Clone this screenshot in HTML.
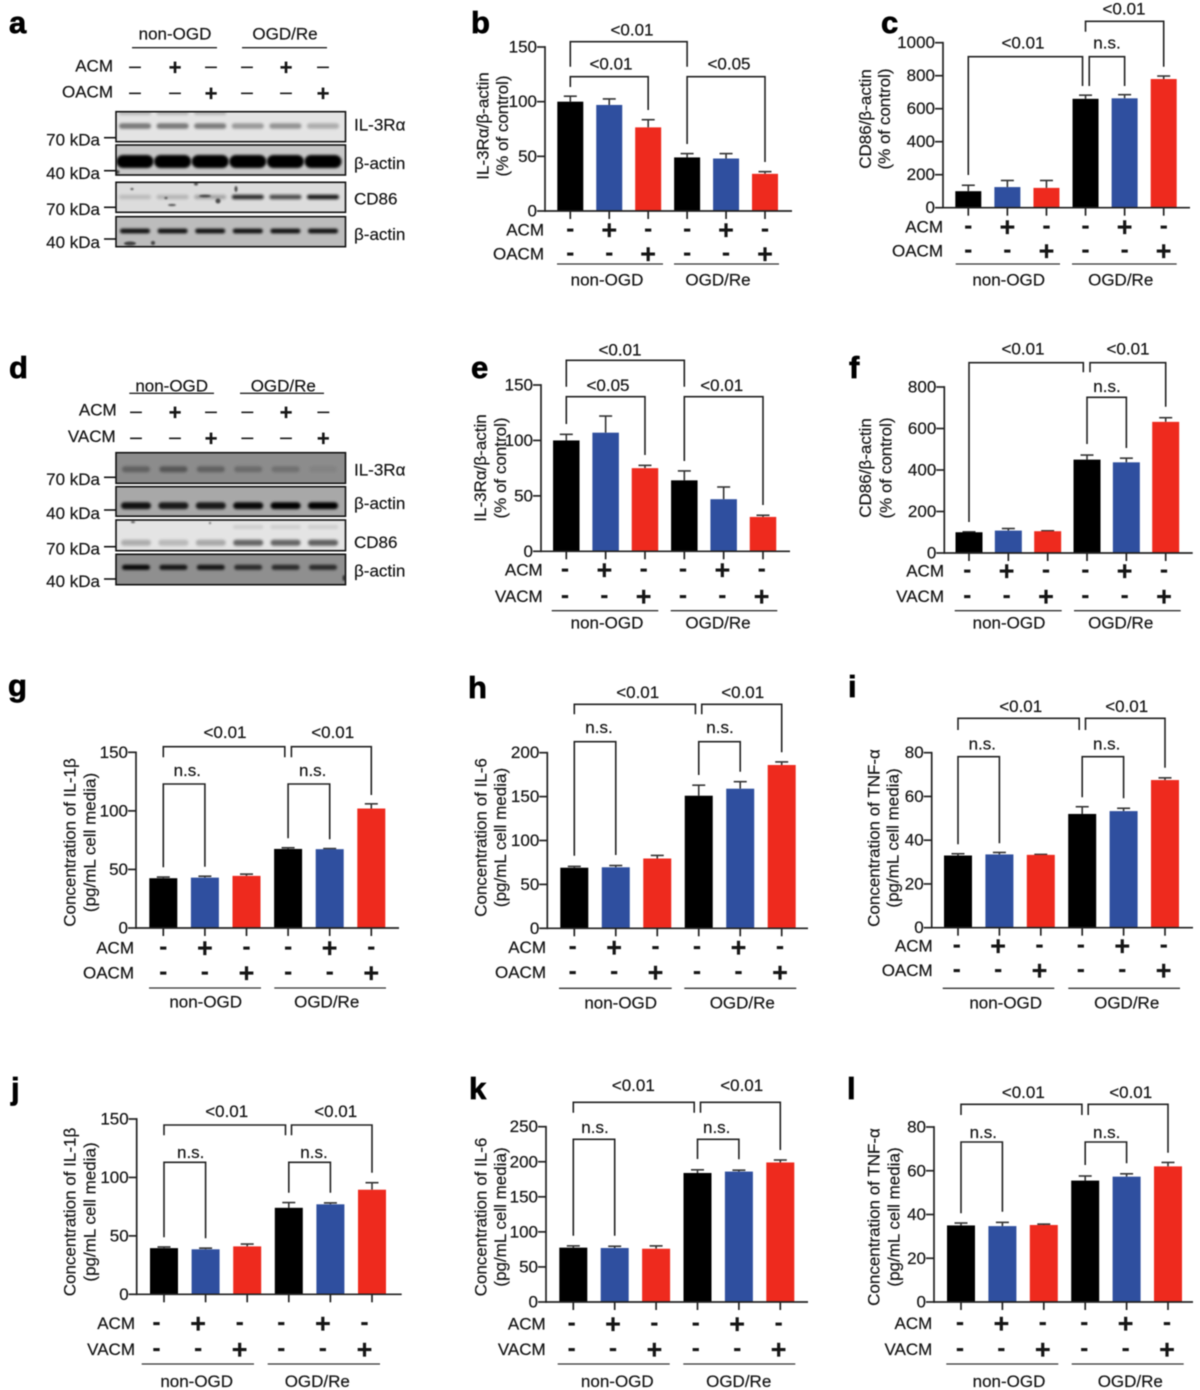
<!DOCTYPE html>
<html lang="en">
<head>
<meta charset="utf-8">
<title>Western blots and cytokine bar charts</title>
<style>
html,body{margin:0;padding:0;background:#fff}
svg{display:block;filter:blur(.45px)}
text{font-family:"Liberation Sans",Arial,sans-serif;fill:#151515;stroke:#151515;stroke-width:.2px}
</style>
</head>
<body>
<svg id="figure" xmlns="http://www.w3.org/2000/svg" width="1200" height="1390" viewBox="0 0 1200 1390">
  <defs>
    <filter id="bandBlur" x="-30%" y="-100%" width="160%" height="300%"><feGaussianBlur stdDeviation="1.2"/></filter>
    <filter id="softBlur" x="-50%" y="-100%" width="200%" height="300%"><feGaussianBlur stdDeviation="0.8"/></filter>
  </defs>
</svg>
<script>
// ---------- shared categories ----------
const acmSigns = ['-', '+', '-', '-', '+', '-'];
const secondSigns = ['-', '-', '+', '-', '-', '+'];
const groupLabels = ['non-OGD', 'OGD/Re'];
const barColors = ['#000000', '#2f4f9f', '#ee2a1e'];

// ---------- chart values ----------
const bMeans = [100, 97, 76.5, 49, 48, 34];
const bErrors = [5, 5.5, 7, 3.5, 4.5, 2];
const bTicks = [0, 50, 100, 150];

const cMeans = [100, 125, 120, 660, 663, 780];
const cErrors = [36, 40, 45, 22, 22, 18];
const cTicks = [0, 200, 400, 600, 800, 1000];

const eMeans = [100, 107, 75, 64, 47, 31];
const eErrors = [5.5, 15, 2.5, 8.5, 11, 1.5];
const eTicks = [0, 50, 100, 150];

const fMeans = [100, 108, 105, 450, 437, 632];
const fErrors = [2, 10, 2, 22, 20, 20];
const fTicks = [0, 200, 400, 600, 800];

const gMeans = [42.5, 43, 44.5, 67.5, 67.3, 102];
const gErrors = [1, 1.2, 1.5, 1, 0.5, 4];
const gTicks = [0, 50, 100, 150];

const hMeans = [69, 69.5, 79.5, 151, 159, 186];
const hErrors = [1.5, 2, 3.5, 12, 8, 3.5];
const hTicks = [0, 50, 100, 150, 200];

const iMeans = [33, 33.5, 33.3, 52, 53.3, 67.5];
const iErrors = [0.8, 0.9, 0.2, 3.3, 1.3, 1];
const iTicks = [0, 20, 40, 60, 80];

const jMeans = [39.5, 38.5, 41, 74, 77, 89.5];
const jErrors = [1, 1, 2, 4.5, 1.2, 6];
const jTicks = [0, 50, 100, 150];

const kMeans = [77.5, 77, 76, 184, 186, 199];
const kErrors = [2.5, 2.5, 4, 4.5, 2, 3.5];
const kTicks = [0, 50, 100, 150, 200, 250];

const lMeans = [35, 34.7, 35.2, 55.5, 57.3, 62];
const lErrors = [1.1, 1.7, 0.4, 2.1, 1.3, 1.8];
const lTicks = [0, 20, 40, 60, 80];

// ---------- western blot band strengths (lane 1..6) ----------
const aIl3Bands = [.6, .6, .58, .42, .45, .3];
const aActinBands = [1, 1, 1, 1, 1, 1];
const aCd86Bands = [.15, .18, .25, .85, .7, .95];
const aActin2Bands = [.9, .9, .9, .9, .9, .9];
const dIl3Bands = [.4, .5, .4, .3, .25, .08];
const dActinBands = [.9, .85, .85, .95, 1, 1];
const dCd86Bands = [.28, .22, .3, .65, .65, .68];
const dActin2Bands = [.95, .85, .85, .7, .7, .7];

// ---------- layout ----------
const TITLE_PCT = ['(% of control)'];
const CONC = '(pg/mL cell media)';
function br(a, ao, b, bo, top, lb, rb, label, lx, ly) { return {a, ao, b, bo, top, lb, rb, label, lx, ly}; }

const panels = [
 {id:'b', means:bMeans, errors:bErrors, ticks:bTicks, second:'OACM', ax:545, end:792, y0:211, yTop:47, x0:570.3, x5:765, w:26, signDx:0,
  rows:[230,254], right:544, line:264, spans:[[557,663],[674,779]], gy:280, gx:[607,718],
  title:['IL-3Rα/β-actin',TITLE_PCT[0]], tx:[483,502.7], tc:126,
  brackets:[br(0,0,3,0,41.7,66.7,66.7,'<0.01',632,30), br(0,0,2,0,76.7,87,110,'<0.01',611,64), br(3,0,5,0,76.7,144,162,'<0.05',729,64)]},
 {id:'c', means:cMeans, errors:cErrors, ticks:cTicks, second:'OACM', ax:943, end:1190, y0:207.7, yTop:42.7, x0:968.3, x5:1163.7, w:26, signDx:0,
  rows:[227,251], right:943, line:264, spans:[[955.7,1060],[1072,1176.7]], gy:280, gx:[1008.7,1120.7],
  title:['CD86/β-actin',TITLE_PCT[0]], tx:[865.7,884.3], tc:119,
  brackets:[br(0,0,3,-3,56.7,175,86,'<0.01',1023,43), br(3,3.7,4,0,56.7,86,86,'n.s.',1107,43), br(3,0,5,0,21.3,31.7,66.7,'<0.01',1124,9)]},
 {id:'e', means:eMeans, errors:eErrors, ticks:eTicks, second:'VACM', ax:541, end:790, y0:551.3, yTop:385, x0:566.3, x5:763, w:26.5, signDx:-1.3,
  rows:[570,596.7], right:542.7, line:610.7, spans:[[551.7,658.3],[670.7,777.3]], gy:623, gx:[607,718],
  title:['IL-3Rα/β-actin',TITLE_PCT[0]], tx:[480.7,500.7], tc:468,
  brackets:[br(0,0,3,0,360.3,386.7,386.7,'<0.01',620,350), br(0,0,2,0,396.7,424,455,'<0.05',608,385.7), br(3,0,5,0,396.7,461,505,'<0.01',721.7,385.7)]},
 {id:'f', means:fMeans, errors:fErrors, ticks:fTicks, second:'VACM', ax:944.3, end:1192.7, y0:553, yTop:387, x0:969, x5:1165.7, w:27, signDx:-1.7,
  rows:[571,596.7], right:944, line:610.7, spans:[[954.7,1061.7],[1074,1180.7]], gy:623, gx:[1009,1120.7],
  title:['CD86/β-actin',TITLE_PCT[0]], tx:[865.7,886], tc:468,
  brackets:[br(0,0,3,-3.7,362.7,522,372.3,'<0.01',1023,349), br(3,3,5,0,362.7,372.3,406.7,'<0.01',1128,349), br(3,0,4,0,397.3,444,448,'n.s.',1107,386.7)]},
 {id:'g', means:gMeans, errors:gErrors, ticks:gTicks, second:'OACM', ax:136, end:399, y0:928, yTop:752.3, x0:163.3, x5:371.3, w:28, signDx:0,
  rows:[948,973], right:134, line:988, spans:[[149,261],[274.3,386]], gy:1002, gx:[205.7,326.7],
  title:['Concentration of IL-1β',CONC], tx:[70,90], tc:842.5,
  brackets:[br(0,0,3,-3.3,746.7,757.3,757.3,'<0.01',225,732.7), br(3,3.3,5,0,746.7,757.3,795,'<0.01',332.7,732.7), br(0,0,1,0,784,867.3,866.7,'n.s.',187.3,770.7), br(3,0,4,0,784,838.3,839.3,'n.s.',312.7,770.7)]},
 {id:'h', means:hMeans, errors:hErrors, ticks:hTicks, second:'OACM', ax:547.3, end:808, y0:928.3, yTop:752.7, x0:574.3, x5:781.7, w:28, signDx:-1.7,
  rows:[947.7,972.3], right:546, line:988.3, spans:[[559,671.7],[684.3,796.3]], gy:1003, gx:[620.7,742.3],
  title:['Concentration of IL-6',CONC], tx:[481,500.7], tc:837.5,
  brackets:[br(0,0,3,-3.3,704.3,714.3,714.3,'<0.01',637.7,692.3), br(3,3,5,0,704.3,714.3,752.3,'<0.01',742.7,692.3), br(0,0,1,0,741.7,855.7,855,'n.s.',599,727.7), br(3,0,4,0,741.7,775,771.7,'n.s.',720,727.7)]},
 {id:'i', means:iMeans, errors:iErrors, ticks:iTicks, second:'OACM', ax:931.7, end:1193, y0:927.7, yTop:752.7, x0:958, x5:1165, w:28, signDx:-1.3,
  rows:[946,970.3], right:932.7, line:988.3, spans:[[942.7,1054.3],[1068.3,1180]], gy:1003, gx:[1005.7,1126.7],
  title:['Concentration of TNF-α',CONC], tx:[874,893], tc:838,
  brackets:[br(0,0,3,-3,718.3,730,730,'<0.01',1020.7,706.7), br(3,3.3,5,0,718.3,730,767.7,'<0.01',1126.7,706.7), br(0,0,1,0,756.7,844.3,843.3,'n.s.',982.3,744), br(3,0,4,0,756.7,797.3,798.3,'n.s.',1106.7,744)]},
 {id:'j', means:jMeans, errors:jErrors, ticks:jTicks, second:'VACM', ax:136.7, end:401.7, y0:1294.3, yTop:1119, x0:164, x5:372, w:28, signDx:-7.5,
  rows:[1323.3,1349.3], right:135, line:1364, spans:[[141.7,254],[267.7,380]], gy:1381.7, gx:[196.7,317.3],
  title:['Concentration of IL-1β',CONC], tx:[70,90], tc:1212,
  brackets:[br(0,0,3,-3.3,1125,1135.3,1135.3,'<0.01',226.7,1111.7), br(3,2.7,5,0,1125,1135.3,1172.7,'<0.01',335.7,1111.7), br(0,0,1,0,1162.3,1237.3,1238.3,'n.s.',190.7,1152.7), br(3,0,4,0,1162.3,1192.7,1192.7,'n.s.',314,1152.7)]},
 {id:'k', means:kMeans, errors:kErrors, ticks:kTicks, second:'VACM', ax:546, end:808, y0:1302, yTop:1126.7, x0:573.3, x5:780.3, w:28, signDx:-1.7,
  rows:[1324,1349.3], right:545.7, line:1364, spans:[[557.7,669.7],[683.3,795.3]], gy:1381.7, gx:[617.3,738.7],
  title:['Concentration of IL-6',CONC], tx:[481,500.7], tc:1217,
  brackets:[br(0,0,3,-3.3,1102.3,1112.7,1112.7,'<0.01',633.3,1085.7), br(3,3,5,0,1102.3,1112.7,1150,'<0.01',741.7,1085.7), br(0,0,1,0,1139.3,1235.7,1235.7,'n.s.',595,1127.7), br(3,0,4,0,1139.3,1159,1159.3,'n.s.',716.7,1127.7)]},
 {id:'l', means:lMeans, errors:lErrors, ticks:lTicks, second:'VACM', ax:934, end:1193, y0:1302, yTop:1127, x0:961, x5:1168, w:28, signDx:-1,
  rows:[1323.3,1349.3], right:932.3, line:1364, spans:[[946.3,1058.3],[1071.7,1183.7]], gy:1381.7, gx:[1009,1130.3],
  title:['Concentration of TNF-α',CONC], tx:[874,894], tc:1217,
  brackets:[br(0,0,3,-3.3,1104.3,1115,1115,'<0.01',1023.3,1092.3), br(3,3,5,0,1104.3,1115,1152.7,'<0.01',1130.7,1092.3), br(0,0,1,0,1142,1213.3,1211.7,'n.s.',983.3,1132.3), br(3,0,4,0,1142,1165,1163.3,'n.s.',1106.7,1132.3)]}
];

const panelLetters = [
 ['a',9,33],['b',471,33],['c',881,33],['d',9,378],['e',471,378],['f',849,378],
 ['g',8,696],['h',468,698],['i',848,697],['j',11,1099],['k',469,1099],['l',847,1099]
];

const NS = 'http://www.w3.org/2000/svg';
const root = document.getElementById('figure');
function mk(tag, parent, attrs) {
  const el = document.createElementNS(NS, tag);
  for (const k in attrs) el.setAttribute(k, attrs[k]);
  parent.appendChild(el);
  return el;
}
function label(parent, str, x, y, anchor, size, weight) {
  const el = mk('text', parent, {x: x, y: y, 'text-anchor': anchor, 'font-size': size, 'dominant-baseline': 'central'});
  if (weight) el.setAttribute('font-weight', weight);
  el.textContent = str;
  return el;
}
function strokeLine(parent, x1, y1, x2, y2, color, width) {
  return mk('line', parent, {x1, y1, x2, y2, stroke: color, 'stroke-width': width});
}

// ---------- panel letters ----------
panelLetters.forEach(function (p) {
  const el = mk('text', root, {x: p[1], y: p[2], 'font-size': 31, 'font-weight': 'bold'});
  el.textContent = p[0];
  el.style.fill = '#000';
  el.style.stroke = '#000';
  el.style.strokeWidth = '.7px';
  
  
});

// ---------- bar chart panels ----------
panels.forEach(function (p) {
  const g = mk('g', root, {});
  
  

  const maxTick = p.ticks[p.ticks.length - 1];
  const yScale = function (v) { return p.y0 - (v / maxTick) * (p.y0 - p.yTop); };
  const xScale = function (i) { return p.x0 + i * (p.x5 - p.x0) / 5; };

  // bars + error bars
  p.means.forEach(function (value, i) {
    const cx = xScale(i);
    const top = yScale(value);
    const whisker = yScale(value + p.errors[i]);
    const stem = strokeLine(g, cx, top, cx, whisker, '#333', 1.6);
    
    
    const cap = strokeLine(g, cx - 6.5, whisker, cx + 6.5, whisker, '#333', 1.6);
    
    
    const bar = mk('rect', g, {x: cx - p.w / 2, y: top, width: p.w, height: p.y0 - top, fill: barColors[i % 3]});
    
    
    const tick = strokeLine(g, cx, p.y0, cx, p.y0 + 8, '#222', 1.7);
    
    

    const s1 = label(g, acmSigns[i], cx + p.signDx, p.rows[0] - (acmSigns[i] === '-' ? 1 : 0), 'middle', acmSigns[i] === '+' ? 27 : 24, 'bold');
    
    
    const s2 = label(g, secondSigns[i], cx + p.signDx, p.rows[1] - (secondSigns[i] === '-' ? 1 : 0), 'middle', secondSigns[i] === '+' ? 27 : 24, 'bold');
    
    
  });

  // axes
  const yAxis = strokeLine(g, p.ax, p.yTop - .85, p.ax, p.y0 + .85, '#222', 1.7);
  
  
  const xAxis = strokeLine(g, p.ax, p.y0, p.end, p.y0, '#222', 1.7);
  
  

  p.ticks.forEach(function (t) {
    const ty = yScale(t);
    const tick = strokeLine(g, p.ax - 8, ty, p.ax, ty, '#222', 1.7);
    
    
    const lab = label(g, String(t), p.ax - 8, ty, 'end', 17);
    
    
  });

  // y title (two lines)
  p.title.forEach(function (line, i) {
    const t = label(g, line, 0, 0, 'middle', 17);
    t.setAttribute('transform', 'translate(' + p.tx[i] + ' ' + p.tc + ') rotate(-90)');
    
    
  });

  // row labels
  const acm = label(g, 'ACM', p.right, p.rows[0], 'end', 17);
  
  
  const sec = label(g, p.second, p.right, p.rows[1], 'end', 17);
  
  

  // group lines + labels
  groupLabels.forEach(function (name, i) {
    const ln = strokeLine(g, p.spans[i][0], p.line, p.spans[i][1], p.line, '#333', 1.3);
    
    
    const t = label(g, name, p.gx[i], p.gy, 'middle', 17);
    
    
  });

  // significance brackets
  p.brackets.forEach(function (b, i) {
    const xa = xScale(b.a) + b.ao;
    const xb = xScale(b.b) + b.bo;
    const path = mk('path', g, {d: 'M' + xa + ' ' + b.lb + 'V' + b.top + 'H' + xb + 'V' + b.rb, fill: 'none', stroke: '#222', 'stroke-width': 1.6});
    
    
    const t = label(g, b.label, b.lx, b.ly, 'middle', 17);
    
    
  });
});

// ---------- western blots ----------
const blots = [
 {id:'a', second:'OACM', lane0:135, lane5:323, x:116, w:229.5,
  groupY:34, groupLineY:47.7, gx:[175,285], spans:[[132,217],[242,327]],
  rowLabelRight:[113,113], rowLabelY:[66,92], signY:[67.7,93.3], signX:[135,175,211,247,286,323],
  strips:[
   {name:'IL-3Rα', y:111.7, h:30, bg:'#e4e4e4', bands:aIl3Bands, by:126, bw:16, bh:2.8, tint:'#333', ghostY:113, ghost:.25, kda:'70 kDa', ky:140, ty:137.7, ly:125, specks:[]},
   {name:'β-actin', y:145, h:30, bg:'#c8c8c8', bands:aActinBands, by:161.5, bw:18.5, bh:6.5, tint:'#000', kda:'40 kDa', ky:173.3, ty:170.7, ly:163.3, specks:[[117,172,2.5,2]]},
   {name:'CD86', y:182.3, h:30, bg:'#dcdcdc', bands:aCd86Bands, by:197, bw:16, bh:2.2, tint:'#111', kda:'70 kDa', ky:209.3, ty:207.3, ly:199, specks:[[196,184,2,1.5],[218,201,2.5,2.5],[236,189,1.5,3],[132,189,1.5,1],[166,198,1.5,1],[172,205,4,1],[205,196,6,1.2]]},
   {name:'β-actin', y:216.7, h:30, bg:'#bcbcbc', bands:aActin2Bands, by:231, bw:15, bh:2.4, tint:'#000', kda:'40 kDa', ky:242.7, ty:239, ly:234.3, specks:[[130,243.5,6,2],[153,243,2,2]]}
  ]},
 {id:'d', second:'VACM', lane0:136, lane5:323, x:116, w:229.5,
  groupY:386, groupLineY:393.3, gx:[171.7,283.3], spans:[[129.3,214],[240,324]],
  rowLabelRight:[116.7,115.7], rowLabelY:[410,436.7], signY:[412.7,438.3], signX:[136,175,211,247.3,286,323.3],
  strips:[
   {name:'IL-3Rα', y:452.7, h:30.6, bg:'#8c8c8c', bands:dIl3Bands, by:469.3, bw:14, bh:3, tint:'#222', kda:'70 kDa', ky:479.3, ty:477.3, ly:470, specks:[]},
   {name:'β-actin', y:486.7, h:29.5, bg:'#a8a8a8', bands:dActinBands, by:505.7, bw:15, bh:3.4, tint:'#000', kda:'40 kDa', ky:513.3, ty:510, ly:503.3, specks:[]},
   {name:'CD86', y:520, h:30.7, bg:'#e4e4e4', bands:dCd86Bands, by:542.7, bw:15, bh:3, tint:'#222', ghostY:527, ghost:.12, kda:'70 kDa', ky:549, ty:546.7, ly:542.3, specks:[[133,522,2,1],[210,523,1,1]]},
   {name:'β-actin', y:554.3, h:30.4, bg:'#8f8f8f', bands:dActin2Bands, by:567.3, bw:14, bh:2.6, tint:'#000', kda:'40 kDa', ky:581.7, ty:579, ly:571, specks:[[344,578,1.5,3]]}
  ]}
];

blots.forEach(function (b) {
  const g = mk('g', root, {});
  
  

  groupLabels.forEach(function (name, i) {
    const t = label(g, name, b.gx[i], b.groupY, 'middle', 17);
    
    
    const ln = strokeLine(g, b.spans[i][0], b.groupLineY, b.spans[i][1], b.groupLineY, '#222', 1.4);
    
    
  });

  const acm = label(g, 'ACM', b.rowLabelRight[0], b.rowLabelY[0], 'end', 17);
  
  
  const sec = label(g, b.second, b.rowLabelRight[1], b.rowLabelY[1], 'end', 17);
  
  

  b.signX.forEach(function (sx, i) {
    const a1 = acmSigns[i] === '+';
    const s1 = label(g, a1 ? '+' : '–', sx, b.signY[0] - (a1 ? 0 : 1.5), 'middle', a1 ? 22 : 21, a1 ? 'bold' : null);
    
    
    const a2 = secondSigns[i] === '+';
    const s2 = label(g, a2 ? '+' : '–', sx, b.signY[1] - (a2 ? 0 : 1.5), 'middle', a2 ? 22 : 21, a2 ? 'bold' : null);
    
    
  });

  b.strips.forEach(function (s, si) {
    const sg = mk('g', g, {});
    
    
    const clipId = 'clip-' + b.id + si;
    const clip = mk('clipPath', sg, {id: clipId});
    mk('rect', clip, {x: b.x, y: s.y, width: b.w, height: s.h});
    const bg = mk('rect', sg, {x: b.x, y: s.y, width: b.w, height: s.h, fill: s.bg});
    
    
    const inner = mk('g', sg, {'clip-path': 'url(#' + clipId + ')'});
    s.bands.forEach(function (strength, i) {
      const cx = b.lane0 + i * (b.lane5 - b.lane0) / 5;
      const band = mk('rect', inner, {x: cx - s.bw, y: s.by - s.bh, width: 2 * s.bw, height: 2 * s.bh, rx: s.bh, fill: s.tint, opacity: strength, filter: 'url(#bandBlur)'});
      
      
      if (s.ghostY && (b.id === 'a' ? i < 3 : i >= 3)) {
        const ghost = mk('rect', inner, {x: cx - s.bw, y: s.ghostY - 2, width: 2 * s.bw, height: 4, rx: 2, fill: '#333', opacity: s.ghost, filter: 'url(#bandBlur)'});
        
        
      }
    });
    s.specks.forEach(function (k, i) {
      const speck = mk('ellipse', inner, {cx: k[0], cy: k[1], rx: k[2], ry: k[3], fill: '#111', opacity: .7, filter: 'url(#softBlur)'});
      
      
    });
    const frame = mk('rect', sg, {x: b.x, y: s.y, width: b.w, height: s.h, fill: 'none', stroke: '#111', 'stroke-width': 1.6});
    
    

    const k = label(g, s.kda, 100, s.ky, 'end', 17);
    
    
    const kt = strokeLine(g, 104, s.ty, 116, s.ty, '#111', 1.6);
    
    
    const n = label(g, s.name, 354, s.ly, 'start', 17);
    
    
  });
});
</script>
</body>
</html>
